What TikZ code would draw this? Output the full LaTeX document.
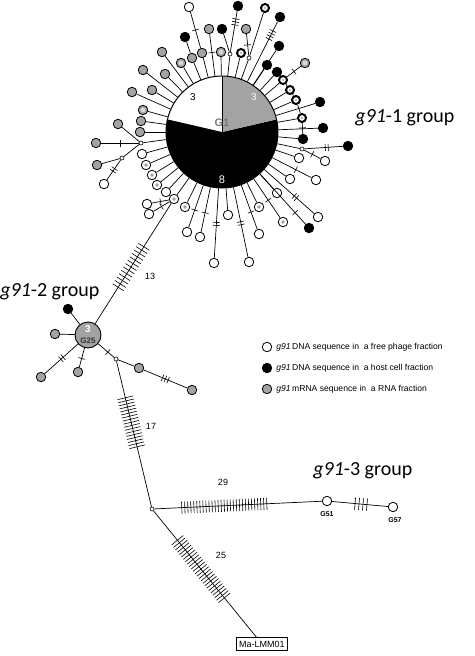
\documentclass[tikz,border=0pt]{standalone}
\usepackage{fontspec}
\setmainfont{Liberation Sans}
\newfontfamily\carl{Carlito}
\usetikzlibrary{decorations.markings}
\definecolor{ngray}{HTML}{A3A3A3}
\definecolor{lgray}{HTML}{DADADA}
\definecolor{dgray}{HTML}{7A7A7A}
\newcommand\tickmk{\draw[line width=0.6pt] (0,-3.5pt)--(0,3.5pt);}
\begin{document}
\begin{tikzpicture}[x=1pt,y=-1pt,line width=0.7pt,
  nd/.style={circle,draw,line width=0.8pt,minimum size=9.5pt,inner sep=0pt},
  wn/.style={nd,fill=white},
  bn/.style={nd,fill=black},
  gn/.style={nd,fill=ngray},
  gl/.style={nd,fill=ngray,path picture={\fill[lgray] (path picture bounding box.center) circle (2.3pt);}},
  sn/.style={nd,fill=white,path picture={\fill[ngray] (path picture bounding box.center) circle (1.8pt);}},
  rn/.style={circle,draw,line width=2pt,fill=white,minimum size=8pt,inner sep=0pt,path picture={\fill[ngray] (path picture bounding box.center) circle (1.2pt);}},
  mv/.style={circle,draw,line width=0.6pt,fill=white,minimum size=4pt,inner sep=0pt},
  tk/.style={postaction={decorate,decoration={markings,mark=at position #1 with {\tickmk}}}},
  hatch/.style n args={4}{postaction={decorate,decoration={markings,mark=between positions #1 and #2 step #3 with {\draw[line width=0.6pt] (0,-#4)--(0,#4);}}}},
  num/.style={font=\fontsize{9}{10}\selectfont},
  grp/.style={font=\carl\fontsize{20}{22}\selectfont,anchor=west,inner sep=0pt},
  leg/.style={font=\fontsize{8.6}{10}\selectfont,anchor=west,inner sep=0pt},
  glab/.style={font=\bfseries\fontsize{7}{8}\selectfont,inner sep=0pt}
]
\useasboundingbox (0,0) rectangle (474,656);
% ---- central pie G1 ----
\coordinate (C) at (222,132);
\fill[white] (C) -- ++(90:56pt) arc[start angle=90,end angle=167,radius=56pt] -- cycle;
\fill[black] (C) -- ++(167:56pt) arc[start angle=167,end angle=373,radius=56pt] -- cycle;
\fill[ngray] (C) -- ++(13:56pt) arc[start angle=13,end angle=90,radius=56pt] -- cycle;
\node[circle,draw,line width=1pt,minimum size=112pt,inner sep=0pt] (G1) at (C) {};
\draw[line width=0.9pt] (C) -- ++(90:56pt);
\node[font=\fontsize{10}{11}\selectfont] (g1a) at (193,97) {3};
\node[font=\fontsize{10}{11}\selectfont,text=white] (g1b) at (254,97) {3};
\node[font=\bfseries\fontsize{11}{12}\selectfont,text=dgray] (g1c) at (222,123) {G1};
\node[font=\fontsize{11}{12}\selectfont,text=white] (g1d) at (222,180) {8};
% ---- star nodes ----
\node[wn] (t1) at (189,7) {};
\node[bn] (t2) at (185,37) {};
\node[gn] (t3) at (202,53) {};
\node[gn] (t4) at (192,58) {};
\node[gl] (t5) at (181,63) {};
\node[gn] (t6) at (162,52) {};
\node[gn] (t7) at (209,29) {};
\node[gl] (t8) at (221,52) {};
\node[bn] (t9) at (222,29) {};
\node[mv] (m1) at (230,54) {};
\node[bn] (t10) at (238,6) {};
\node[rn] (t11) at (241,53) {};
\node[gn] (t12) at (246,29) {};
\node[mv] (m2) at (249,58) {};
\node[rn] (t13) at (265,8) {};
\node[bn] (t14) at (280,17) {};
\node[bn] (t15) at (279,46) {};
\node[bn] (t16) at (267,65) {};
\node[bn] (t17) at (277,72) {};
\node[gl] (t18) at (305,63) {};
\node[rn] (t19) at (283,80) {};
\node[rn] (t20) at (290,90) {};
\node[bn] (t21) at (320,102) {};
\node[rn] (t22) at (296,100) {};
\node[rn] (t23) at (302,118) {};
\node[bn] (t24) at (323,128) {};
\node[bn] (t25) at (303,139) {};
\node[mv] (m3) at (302,149) {};
\node[bn] (t26) at (348,146) {};
\node[wn] (t27) at (325,161) {};
\node[wn] (t28) at (299,158) {};
\node[wn] (t29) at (290,179) {};
\node[wn] (t30) at (316,180) {};
\node[wn] (t31) at (277,193) {};
\node[wn] (t32) at (318,217) {};
\node[bn] (t33) at (309,228) {};
\node[sn] (t34) at (283,222) {};
\node[wn] (t35) at (259,234) {};
\node[sn] (t36) at (259,207) {};
\node[wn] (t37) at (249,262) {};
\node[wn] (t38) at (228,215) {};
\node[wn] (t39) at (214,263) {};
\node[wn] (t40) at (200,237) {};
\node[wn] (t41) at (187,232) {};
\node[sn] (t42) at (185,207) {};
\node[sn] (t43) at (174,199) {};
\node[wn] (t44) at (147,204) {};
\node[wn] (t45) at (149,214) {};
\node[wn] (t46) at (166,192) {};
\node[sn] (t47) at (157,185) {};
\node[sn] (t48) at (152,175) {};
\node[sn] (t49) at (146,165) {};
\node[wn] (t50) at (142,154) {};
\node[mv] (m4) at (141,143) {};
\node[gn] (t51) at (96,143) {};
\node[gn] (t52) at (118,124) {};
\node[mv] (m5) at (122,158) {};
\node[gn] (t53) at (97,165) {};
\node[wn] (t54) at (104,184) {};
\node[gn] (t55) at (140,132) {};
\node[gn] (t56) at (141,121) {};
\node[gl] (t57) at (143,110) {};
\node[gn] (t58) at (132,92) {};
\node[gn] (t59) at (152,90) {};
\node[gn] (t60) at (143,70) {};
\node[gn] (t61) at (165,74) {};
% ---- spokes ----
\foreach \n in {t3,t4,t5,t6,t8,m1,t11,m2,t15,t16,t17,t19,t20,t21,t22,t23,t24,t25,m3,
  t28,t29,t31,t36,t38,t42,t43,t46,t47,t48,t49,t50,m4,t55,t56,t57,t58,t59,t60,t61}
  \draw (\n) -- (G1);
\draw[tk=0.5] (t1) -- (t3);
\draw (t2) -- (t4);
\draw[tk=0.44] (t7) -- (G1);
\draw (t9) -- (m1);
\draw[hatch={8pt}{14.1pt}{3pt}{3.5pt}] (t10) -- (m1);
\draw[tk=0.5] (t12) -- (m2);
\draw (t13) -- (m2);
\draw[hatch={10.5pt}{19.6pt}{3pt}{3.5pt}] (t14) -- (G1);
\draw[tk=0.5] (t18) -- (t19);
\draw (t19) -- (t20) -- (t22) -- (t23);
\draw[tk=0.45] (t23) -- (t25);
\draw[hatch={21pt}{24.1pt}{3pt}{3.5pt}] (m3) -- (t26);
\draw[tk=0.5] (m3) -- (t27);
\draw[tk=0.4] (t30) -- (G1);
\draw[hatch={23.5pt}{26.6pt}{3pt}{3.5pt}] (t32) -- (G1);
\draw[tk=0.23] (t33) -- (G1);
\draw[tk=0.45] (t34) -- (G1);
\draw[tk=0.39] (t35) -- (G1);
\draw[hatch={33pt}{36.1pt}{3pt}{3.5pt}] (t37) -- (G1);
\draw[hatch={32.5pt}{35.6pt}{3pt}{3.5pt}] (t39) -- (G1);
\draw[tk=0.43] (t40) -- (G1);
\draw[tk=0.41] (t41) -- (G1);
\draw[tk=0.5] (t44) -- (t43);
\draw[tk=0.5] (t45) -- (t43);
\draw[tk=0.5] (t51) -- (m4);
\draw (t52) -- (m4);
\draw (m5) -- (m4);
\draw (t53) -- (m5);
\draw[hatch={10.5pt}{13.6pt}{3pt}{3.5pt}] (t54) -- (m5);
% ---- g91-2 group ----
\node[circle,draw,line width=0.9pt,fill=ngray,minimum size=26pt,inner sep=0pt] (G25) at (88,335) {};
\node[font=\bfseries\fontsize{10}{11}\selectfont,text=white] (g25a) at (88,329) {3};
\node[font=\bfseries\fontsize{8}{9}\selectfont,text=black!80] (g25b) at (88,341) {G25};
\node[bn] (g1) at (68,309) {};
\node[gn] (g2) at (55,334) {};
\node[gn] (g3) at (41,377) {};
\node[gn] (g4) at (78,372) {};
\node[mv] (q1) at (116,359) {};
\node[gn] (g5) at (139,368) {};
\node[gn] (g6) at (192,390) {};
\node[mv] (q2) at (152,509) {};
\node[wn] (G51) at (327,501) {};
\node[wn] (G57) at (393,507) {};
\node[draw,rectangle,line width=0.8pt,inner sep=3pt,font=\fontsize{9}{10}\selectfont] (ma) at (262,644) {Ma-LMM01};
\draw (g1) -- (G25);
\draw (g2) -- (G25);
\draw[hatch={21.5pt}{24.6pt}{3pt}{3.5pt}] (g3) -- (G25);
\draw[tk=0.45] (g4) -- (G25);
\draw[tk=0.6] (G25) -- (q1);
\draw (q1) -- (g5);
\draw[hatch={20.7pt}{26.8pt}{3pt}{3.5pt}] (g6) -- (g5);
\draw[hatch={43pt}{91.1pt}{4pt}{6.5pt}] (G25) -- (t43);
\draw[hatch={37.6pt}{88.2pt}{3.15pt}{8pt}] (q1) -- (q2);
\draw[hatch={27.5pt}{112.8pt}{3.04pt}{6pt}] (q2) -- (G51);
\draw[hatch={23pt}{35.1pt}{4pt}{6pt}] (G51) -- (G57);
\draw[hatch={38pt}{112.4pt}{3.095pt}{7.5pt}] (q2) -- (ma);
% ---- labels ----
\node[num] (n13) at (150,276) {13};
\node[num] (n17) at (151,426) {17};
\node[num] (n29) at (223,482) {29};
\node[num] (n25) at (221,555) {25};
\node[glab] (l51) at (327,514) {G51};
\node[glab] (l57) at (395,520) {G57};
\node[grp] (grp1) at (355,118) {\textit{g91}-1 group};
\node[grp] (grp2) at (0,292) {\textit{g91}-2 group};
\node[grp] (grp3) at (313,471) {\textit{g91}-3 group};
% ---- legend ----
\node[wn] (L1) at (267,347) {};
\node[bn] (L2) at (267,368) {};
\node[gn] (L3) at (267,389) {};
\node[leg] (L1t) at (276,347) {\textit{g91}\,DNA sequence in\ \ a free phage fraction};
\node[leg] (L2t) at (276,368) {\textit{g91}\,DNA sequence in\ \ a host cell fraction};
\node[leg] (L3t) at (276,389) {\textit{g91}\,mRNA sequence in\ \ a RNA fraction};
\end{tikzpicture}
\end{document}
